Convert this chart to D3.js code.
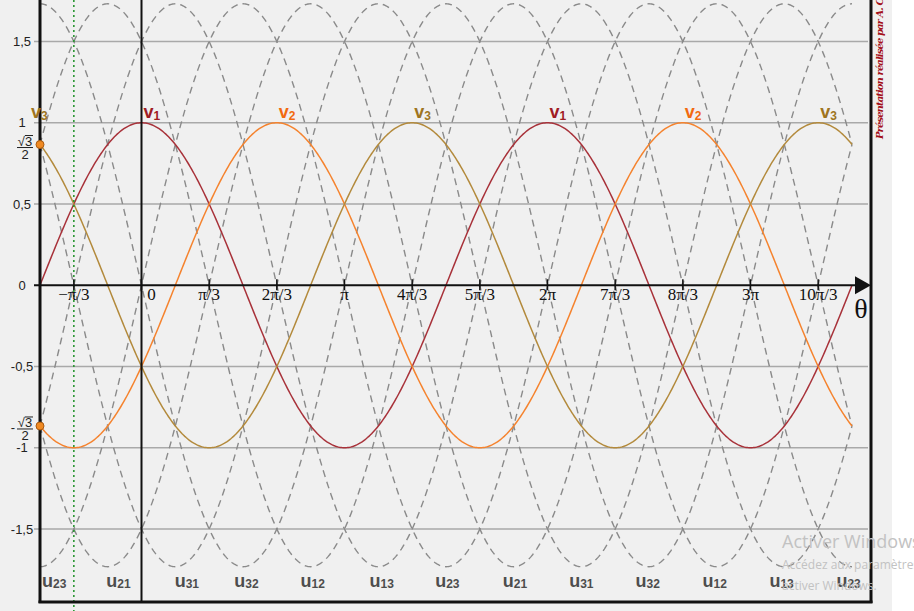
<!DOCTYPE html>
<html><head><meta charset="utf-8">
<script src="https://cdn.jsdelivr.net/npm/d3@7"></script>
<style>html,body{margin:0;padding:0;background:#fff;}svg{display:block;}</style>
</head><body>
<svg id="c" width="914" height="611"></svg>
<script>
// ---- data ----
const phaseNames = ["1", "2", "3"];                 // phases v1, v2, v3
const phaseShifts = [0, 2 * Math.PI / 3, 4 * Math.PI / 3]; // v_k = cos(θ - shift)
const phaseAmplitude = 1;
const phaseColors = ["#a8323a", "#f5832e", "#b38a3c"];
const labelColors = ["#a01c24", "#f26a10", "#9e7420"];
const linePairs = [[0, 1], [1, 0], [0, 2], [2, 0], [1, 2], [2, 1]]; // u12,u21,u13,u31,u23,u32
const thetaRange = [-Math.PI / 2, 7 * Math.PI / 2];
const xTickMultiples = [-1, 0, 1, 2, 3, 4, 5, 6, 7, 8, 9, 10]; // × π/3
const xTickLabels = ["−π/3", "0", "π/3", "2π/3", "π", "4π/3", "5π/3", "2π", "7π/3", "8π/3", "3π", "10π/3"];
const yTickValues = [1.5, 1, 0.5, 0, -0.5, -1, -1.5];
const yTickLabels = ["1,5", "1", "0,5", "0", "-0,5", "-1", "-1,5"];
const gridValues = [1.5, 1, 0.5, -0.5, -1, -1.5];
const vLabelPhase = [2, 0, 1, 2, 0, 1, 2];
const vLabelMultiples = [-2, 0, 2, 4, 6, 8, 10];        // peaks, × π/3
const uLabelNames = ["23", "21", "31", "32", "12", "13", "23", "21", "31", "32", "12", "13", "23"];
const uLabelMultiples = [-1.29, -0.34, 0.67, 1.55, 2.53, 3.55, 4.52, 5.52, 6.5, 7.48, 8.47, 9.46, 10.45];

// ---- scales ----
const x = d3.scaleLinear().domain(thetaRange).range([40, 852]);
const y = d3.scaleLinear().domain([-1.5, 1.5]).range([529, 41.5]);
const svg = d3.select("#c");

svg.append("rect").attr("x", 0).attr("y", 0).attr("width", 892).attr("height", 611).attr("fill", "#f0f0f0");

// grid
svg.selectAll(".grid").data(gridValues).join("line")
  .attr("x1", 34).attr("x2", 868).attr("y1", d => y(d)).attr("y2", d => y(d))
  .attr("stroke", "#a9a9a9").attr("stroke-width", 1.4);

// sampled thetas
const N = 600;
const thetas = d3.range(N + 1).map(i => thetaRange[0] + (thetaRange[1] - thetaRange[0]) * i / N);
const vSeries = phaseShifts.map(s => thetas.map(t => phaseAmplitude * Math.cos(t - s)));
const line = d3.line().x(d => x(d[0])).y(d => y(d[1])).curve(d3.curveLinear);

// dashed line voltages
linePairs.forEach(([a, b]) => {
  const pts = thetas.map((t, i) => [t, vSeries[a][i] - vSeries[b][i]]);
  svg.append("path").attr("d", line(pts)).attr("fill", "none")
    .attr("stroke", "#8a8a8a").attr("stroke-width", 1.4).attr("stroke-dasharray", "7,5");
});

// phase voltages
vSeries.forEach((s, k) => {
  const pts = thetas.map((t, i) => [t, s[i]]);
  svg.append("path").attr("d", line(pts)).attr("fill", "none")
    .attr("stroke", phaseColors[k]).attr("stroke-width", 1.5);
});

// green dotted at -π/3
svg.append("line").attr("x1", x(-Math.PI / 3)).attr("x2", x(-Math.PI / 3)).attr("y1", 0).attr("y2", 611)
  .attr("stroke", "#2a9632").attr("stroke-width", 1.6).attr("stroke-dasharray", "2,3");

// x axis
svg.append("line").attr("x1", 34).attr("x2", 858).attr("y1", y(0)).attr("y2", y(0))
  .attr("stroke", "#111").attr("stroke-width", 2);
svg.append("path").attr("d", `M855,${y(0) - 9}L871,${y(0)}L855,${y(0) + 9}Z`).attr("fill", "#111");
svg.selectAll(".xt").data(xTickMultiples).join("line")
  .attr("x1", d => x(d * Math.PI / 3)).attr("x2", d => x(d * Math.PI / 3))
  .attr("y1", y(0) - 6).attr("y2", y(0) + 5).attr("stroke", "#111").attr("stroke-width", 1.5);
svg.selectAll(".xl").data(xTickMultiples).join("text")
  .attr("x", (d, i) => x(d * Math.PI / 3) + (d === 0 ? 10 : 0)).attr("y", 300)
  .attr("text-anchor", "middle").attr("font-family", "Liberation Serif, Times New Roman, serif")
  .attr("font-size", 17).attr("fill", "#111").text((d, i) => xTickLabels[i]);
svg.append("text").attr("x", 861).attr("y", 318).attr("text-anchor", "middle")
  .attr("font-family", "Liberation Serif, serif").attr("font-size", 28).attr("fill", "#111").text("θ");

// vertical axis at 0
svg.append("line").attr("x1", x(0)).attr("x2", x(0)).attr("y1", 0).attr("y2", 602)
  .attr("stroke", "#111").attr("stroke-width", 2);
// frame
svg.append("line").attr("x1", 40).attr("x2", 40).attr("y1", 0).attr("y2", 603).attr("stroke", "#111").attr("stroke-width", 3);
svg.append("line").attr("x1", 871).attr("x2", 871).attr("y1", 0).attr("y2", 603).attr("stroke", "#111").attr("stroke-width", 3);
svg.append("line").attr("x1", 38.5).attr("x2", 872.5).attr("y1", 602).attr("y2", 602).attr("stroke", "#111").attr("stroke-width", 3);

// y tick labels
svg.selectAll(".yl").data(yTickValues).join("text")
  .attr("x", 22).attr("y", d => y(d)).attr("dy", "0.35em").attr("text-anchor", "middle")
  .attr("font-family", "Liberation Sans, Arial, sans-serif").attr("font-size", 13).attr("fill", "#222")
  .text((d, i) => yTickLabels[i]);

// ±√3/2 labels and dots
const r3 = Math.sqrt(3) / 2;
[r3, -r3].forEach(v => {
  const cy = y(v) + 3;
  const g = svg.append("g").attr("font-family", "Liberation Sans, Arial, sans-serif").attr("font-size", 13).attr("fill", "#222");
  g.append("text").attr("x", 25).attr("y", cy - 2).attr("text-anchor", "middle").text("√3");
  g.append("line").attr("x1", 25).attr("x2", 33).attr("y1", cy - 12).attr("y2", cy - 12).attr("stroke", "#222").attr("stroke-width", 1);
  g.append("line").attr("x1", 17).attr("x2", 33).attr("y1", cy).attr("y2", cy).attr("stroke", "#222").attr("stroke-width", 1);
  g.append("text").attr("x", 25).attr("y", cy + 11).attr("text-anchor", "middle").text("2");
  if (v < 0) g.append("text").attr("x", 13).attr("y", cy + 3).attr("text-anchor", "middle").text("-");
  svg.append("circle").attr("cx", x(thetaRange[0])).attr("cy", y(v)).attr("r", 4)
    .attr("fill", "#f08a22").attr("stroke", "#a85a10").attr("stroke-width", 1);
});

// v labels
vLabelMultiples.forEach((m, i) => {
  const px = Math.max(31, x(m * Math.PI / 3) + 2);
  const k = vLabelPhase[i];
  const t = svg.append("text").attr("x", px).attr("y", 118)
    .attr("font-family", "Liberation Sans, Arial, sans-serif").attr("font-weight", "bold")
    .attr("font-size", 18).attr("fill", labelColors[k]);
  t.append("tspan").text("v");
  t.append("tspan").attr("font-size", 12).attr("dy", 2).text(phaseNames[k]);
});

// u labels
uLabelMultiples.forEach((m, i) => {
  const t = svg.append("text").attr("x", x(m * Math.PI / 3)).attr("y", 587).attr("text-anchor", "middle")
    .attr("font-family", "Liberation Sans, Arial, sans-serif").attr("font-weight", "bold")
    .attr("font-size", 18).attr("fill", "#4d4d4d");
  t.append("tspan").text("u");
  t.append("tspan").attr("font-size", 12).attr("dy", 1).text(uLabelNames[i]);
});

// credit text
svg.append("text").attr("transform", "translate(883,139) rotate(-90)")
  .attr("font-family", "DejaVu Serif, serif").attr("font-style", "italic").attr("font-weight", "bold")
  .attr("font-size", 10).attr("fill", "#a3101a").attr("textLength", 150).text("Présentation réalisée par A. CH");

// OS watermark
const wm = svg.append("g").attr("font-family", "Open Sans, Noto Sans, sans-serif").attr("fill", "#c2c2c2");
wm.append("text").attr("x", 782).attr("y", 548).attr("font-size", 18).text("Activer Windows");
wm.append("text").attr("x", 782).attr("y", 569).attr("font-size", 12).text("Accédez aux paramètres pour");
wm.append("text").attr("x", 782).attr("y", 590).attr("font-size", 12).text("activer Windows.");
</script>
</body></html>
